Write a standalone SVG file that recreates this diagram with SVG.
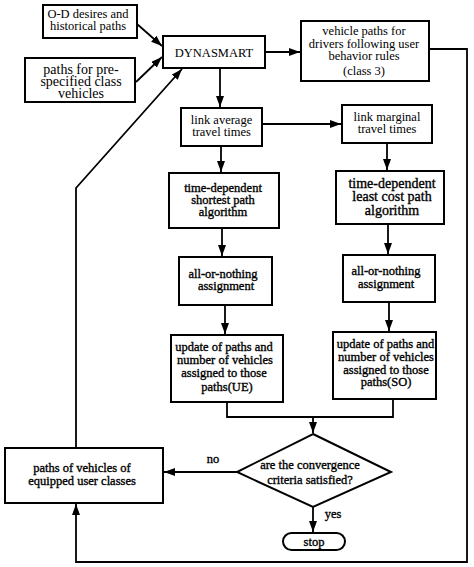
<svg xmlns="http://www.w3.org/2000/svg" width="474" height="567" viewBox="0 0 474 567">
<style>
.box{fill:#fff;stroke:#000;stroke-width:2}
.c{fill:none;stroke:#000;stroke-width:1.8}
.t{font-family:"Liberation Serif","Times New Roman",serif;font-size:12.5px;text-anchor:middle;fill:#000}
.b{stroke:#000;stroke-width:0.35}
</style>
<defs>
<marker id="ah" markerUnits="userSpaceOnUse" markerWidth="12" markerHeight="9" refX="11" refY="4" orient="auto">
<path d="M0,0 L11,4 L0,8 z" fill="#000"/>
</marker>
</defs>
<rect width="474" height="567" fill="#fff"/>
<g id="connectors">
<line class="c" x1="137" y1="24" x2="162" y2="46" marker-end="url(#ah)"/>
<line class="c" x1="136" y1="82" x2="162" y2="57" marker-end="url(#ah)"/>
<polyline class="c" points="76,448 76,188 182,69" marker-end="url(#ah)"/>
<line class="c" x1="265" y1="52" x2="300" y2="52" marker-end="url(#ah)"/>
<polyline class="c" points="429,49 467,49 467,562 76,562 76,504" marker-end="url(#ah)"/>
<line class="c" x1="220" y1="68" x2="220" y2="107" marker-end="url(#ah)"/>
<line class="c" x1="262" y1="124" x2="341" y2="124" marker-end="url(#ah)"/>
<line class="c" x1="221" y1="146" x2="221" y2="172" marker-end="url(#ah)"/>
<line class="c" x1="222" y1="228" x2="222" y2="256" marker-end="url(#ah)"/>
<line class="c" x1="225" y1="305" x2="225" y2="334" marker-end="url(#ah)"/>
<line class="c" x1="387" y1="143" x2="387" y2="170" marker-end="url(#ah)"/>
<line class="c" x1="388" y1="224" x2="388" y2="254" marker-end="url(#ah)"/>
<line class="c" x1="389" y1="302" x2="389" y2="331" marker-end="url(#ah)"/>
<polyline class="c" points="227,402 227,417 393,417 393,399"/>
<line class="c" x1="313" y1="417" x2="313" y2="433" marker-end="url(#ah)"/>
<line class="c" x1="237" y1="472" x2="164" y2="472" marker-end="url(#ah)"/>
<line class="c" x1="313" y1="507" x2="313" y2="532" marker-end="url(#ah)"/>
</g>
<g id="od">
<rect class="box" x="43" y="5" width="94" height="33"/>
<text class="t" x="88" y="17.5">O-D desires and</text>
<text class="t" x="88" y="29.5">historical paths</text>
</g>
<g id="prespec">
<rect class="box" x="25" y="58" width="110" height="44"/>
<text class="t" x="81" y="74" style="font-size:14px">paths for pre-</text>
<text class="t" x="81" y="86" style="font-size:14px">specified class</text>
<text class="t" x="81" y="98" style="font-size:14px">vehicles</text>
</g>
<g id="dynasmart">
<rect class="box" x="163" y="36" width="102" height="32"/>
<text class="t" x="214" y="56.5">DYNASMART</text>
</g>
<g id="vehpaths">
<rect class="box" x="301" y="21" width="128" height="60"/>
<text class="t" x="364" y="35">vehicle paths for</text>
<text class="t" x="364" y="47.5">drivers following user</text>
<text class="t" x="364" y="60">behavior rules</text>
<text class="t" x="364" y="74.5">(class 3)</text>
</g>
<g id="linkavg">
<rect class="box" x="181" y="108" width="81" height="38"/>
<text class="t" x="221.5" y="124">link average</text>
<text class="t" x="221.5" y="136">travel times</text>
</g>
<g id="linkmarg">
<rect class="box" x="342" y="105" width="90" height="38"/>
<text class="t" x="387" y="121">link marginal</text>
<text class="t" x="387" y="132.5">travel times</text>
</g>
<g id="tdsp">
<rect class="box" x="169" y="173" width="110" height="55"/>
<text class="t b" x="223" y="192">time-dependent</text>
<text class="t b" x="223" y="204">shortest path</text>
<text class="t b" x="223" y="216">algorithm</text>
</g>
<g id="tdlc">
<rect class="box" x="336" y="171" width="108" height="53"/>
<text class="t b" x="392" y="187.5" style="font-size:14px">time-dependent</text>
<text class="t b" x="392" y="201" style="font-size:14px">least cost path</text>
<text class="t b" x="392" y="214.5" style="font-size:14px">algorithm</text>
</g>
<g id="aonL">
<rect class="box" x="179" y="257" width="93" height="48"/>
<text class="t b" x="223" y="278">all-or-nothing</text>
<text class="t b" x="226" y="290">assignment</text>
</g>
<g id="aonR">
<rect class="box" x="343" y="255" width="92" height="47"/>
<text class="t b" x="386" y="275">all-or-nothing</text>
<text class="t b" x="386" y="288">assignment</text>
</g>
<g id="ue">
<rect class="box" x="171" y="335" width="112" height="67"/>
<text class="t b" x="224" y="351">update of paths and</text>
<text class="t b" x="225" y="364">number of vehicles</text>
<text class="t b" x="224" y="377">assigned to those</text>
<text class="t b" x="227" y="391">paths(UE)</text>
</g>
<g id="so">
<rect class="box" x="333" y="332" width="103" height="67"/>
<text class="t b" x="385.5" y="348">update of paths and</text>
<text class="t b" x="386" y="361">number of vehicles</text>
<text class="t b" x="386" y="374">assigned to those</text>
<text class="t b" x="386" y="386">paths(SO)</text>
</g>
<g id="decision">
<polygon class="box" points="313,434 391,472 313,507 237,472"/>
<text class="t b" x="310" y="469">are the convergence</text>
<text class="t b" x="310" y="484">criteria satisfied?</text>
</g>
<g id="equipped">
<rect class="box" x="5" y="448" width="158" height="55"/>
<text class="t b" x="82" y="472">paths of vehicles of</text>
<text class="t b" x="82" y="485">equipped user classes</text>
</g>
<g id="stop">
<rect class="box" x="283" y="533" width="62" height="17" rx="8.5"/>
<text class="t b" x="314" y="546">stop</text>
</g>
<g id="labels">
<text class="t b" x="213" y="463">no</text>
<text class="t b" x="333" y="518">yes</text>
</g>
</svg>
